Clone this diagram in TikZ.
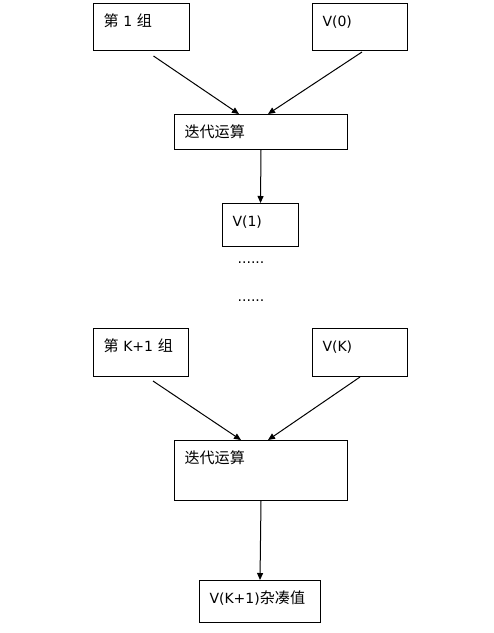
\documentclass[tikz,border=0pt]{standalone}
\usepackage{fontspec}
\setmainfont{DejaVu Sans}
\newfontfamily\cjk[Scale=1.08]{Noto Sans CJK SC}
\usetikzlibrary{arrows.meta, positioning}
\tikzstyle{block}=[draw,rectangle,anchor=north west,inner xsep=10pt,inner ysep=0pt,text height=23pt,align=left]
\tikzstyle{every node}=[font=\fontsize{14}{16}\selectfont]

\begin{document}
\begin{tikzpicture}[>={Triangle[length=7pt,width=6pt]}, x=1pt, y=-1pt, line width=1pt]
    \useasboundingbox (0,0) rectangle (494,633);
    \node[block, text width=76pt, text depth=24pt] (g1) at (93,3) {{\cjk 第} 1 {\cjk 组}};
    \node[block, text width=75pt, text depth=24pt] (v0) at (312,3) {V(0)};
    \node[block, text width=153pt, text depth=12pt] (op1) at (174,114) {\cjk 迭代运算};
    \node[block, text width=56pt, text depth=20pt] (v1) at (222,203) {V(1)};
    \node[anchor=base] (dots1) at (251,263) {......};
    \node[anchor=base] (dots2) at (251,301) {......};
    \node[block, text width=75pt, text depth=25pt] (g2) at (93,328) {{\cjk 第} K+1 {\cjk 组}};
    \node[block, text width=75pt, text depth=25pt] (vk) at (312,328) {V(K)};
    \node[block, text width=153pt, text depth=37pt] (op2) at (174,440) {\cjk 迭代运算};
    \node[block, text width=101pt, text depth=19pt] (out) at (199,580) {V(K+1){\cjk 杂凑值}};
    \draw[->] ([xshift=12pt,yshift=-5pt]g1.south) -- ([xshift=-22pt]op1.north);
    \draw[->] ([xshift=2pt,yshift=-1pt]v0.south) -- ([xshift=7pt]op1.north);
    \draw[->] (op1.south) -- (v1.north);
    \draw[->] ([xshift=12pt,yshift=-4pt]g2.south) -- ([xshift=-20pt]op2.north);
    \draw[->] (vk.south) -- ([xshift=7pt]op2.north);
    \draw[->] (op2.south) -- (out.north);
\end{tikzpicture}
\end{document}
